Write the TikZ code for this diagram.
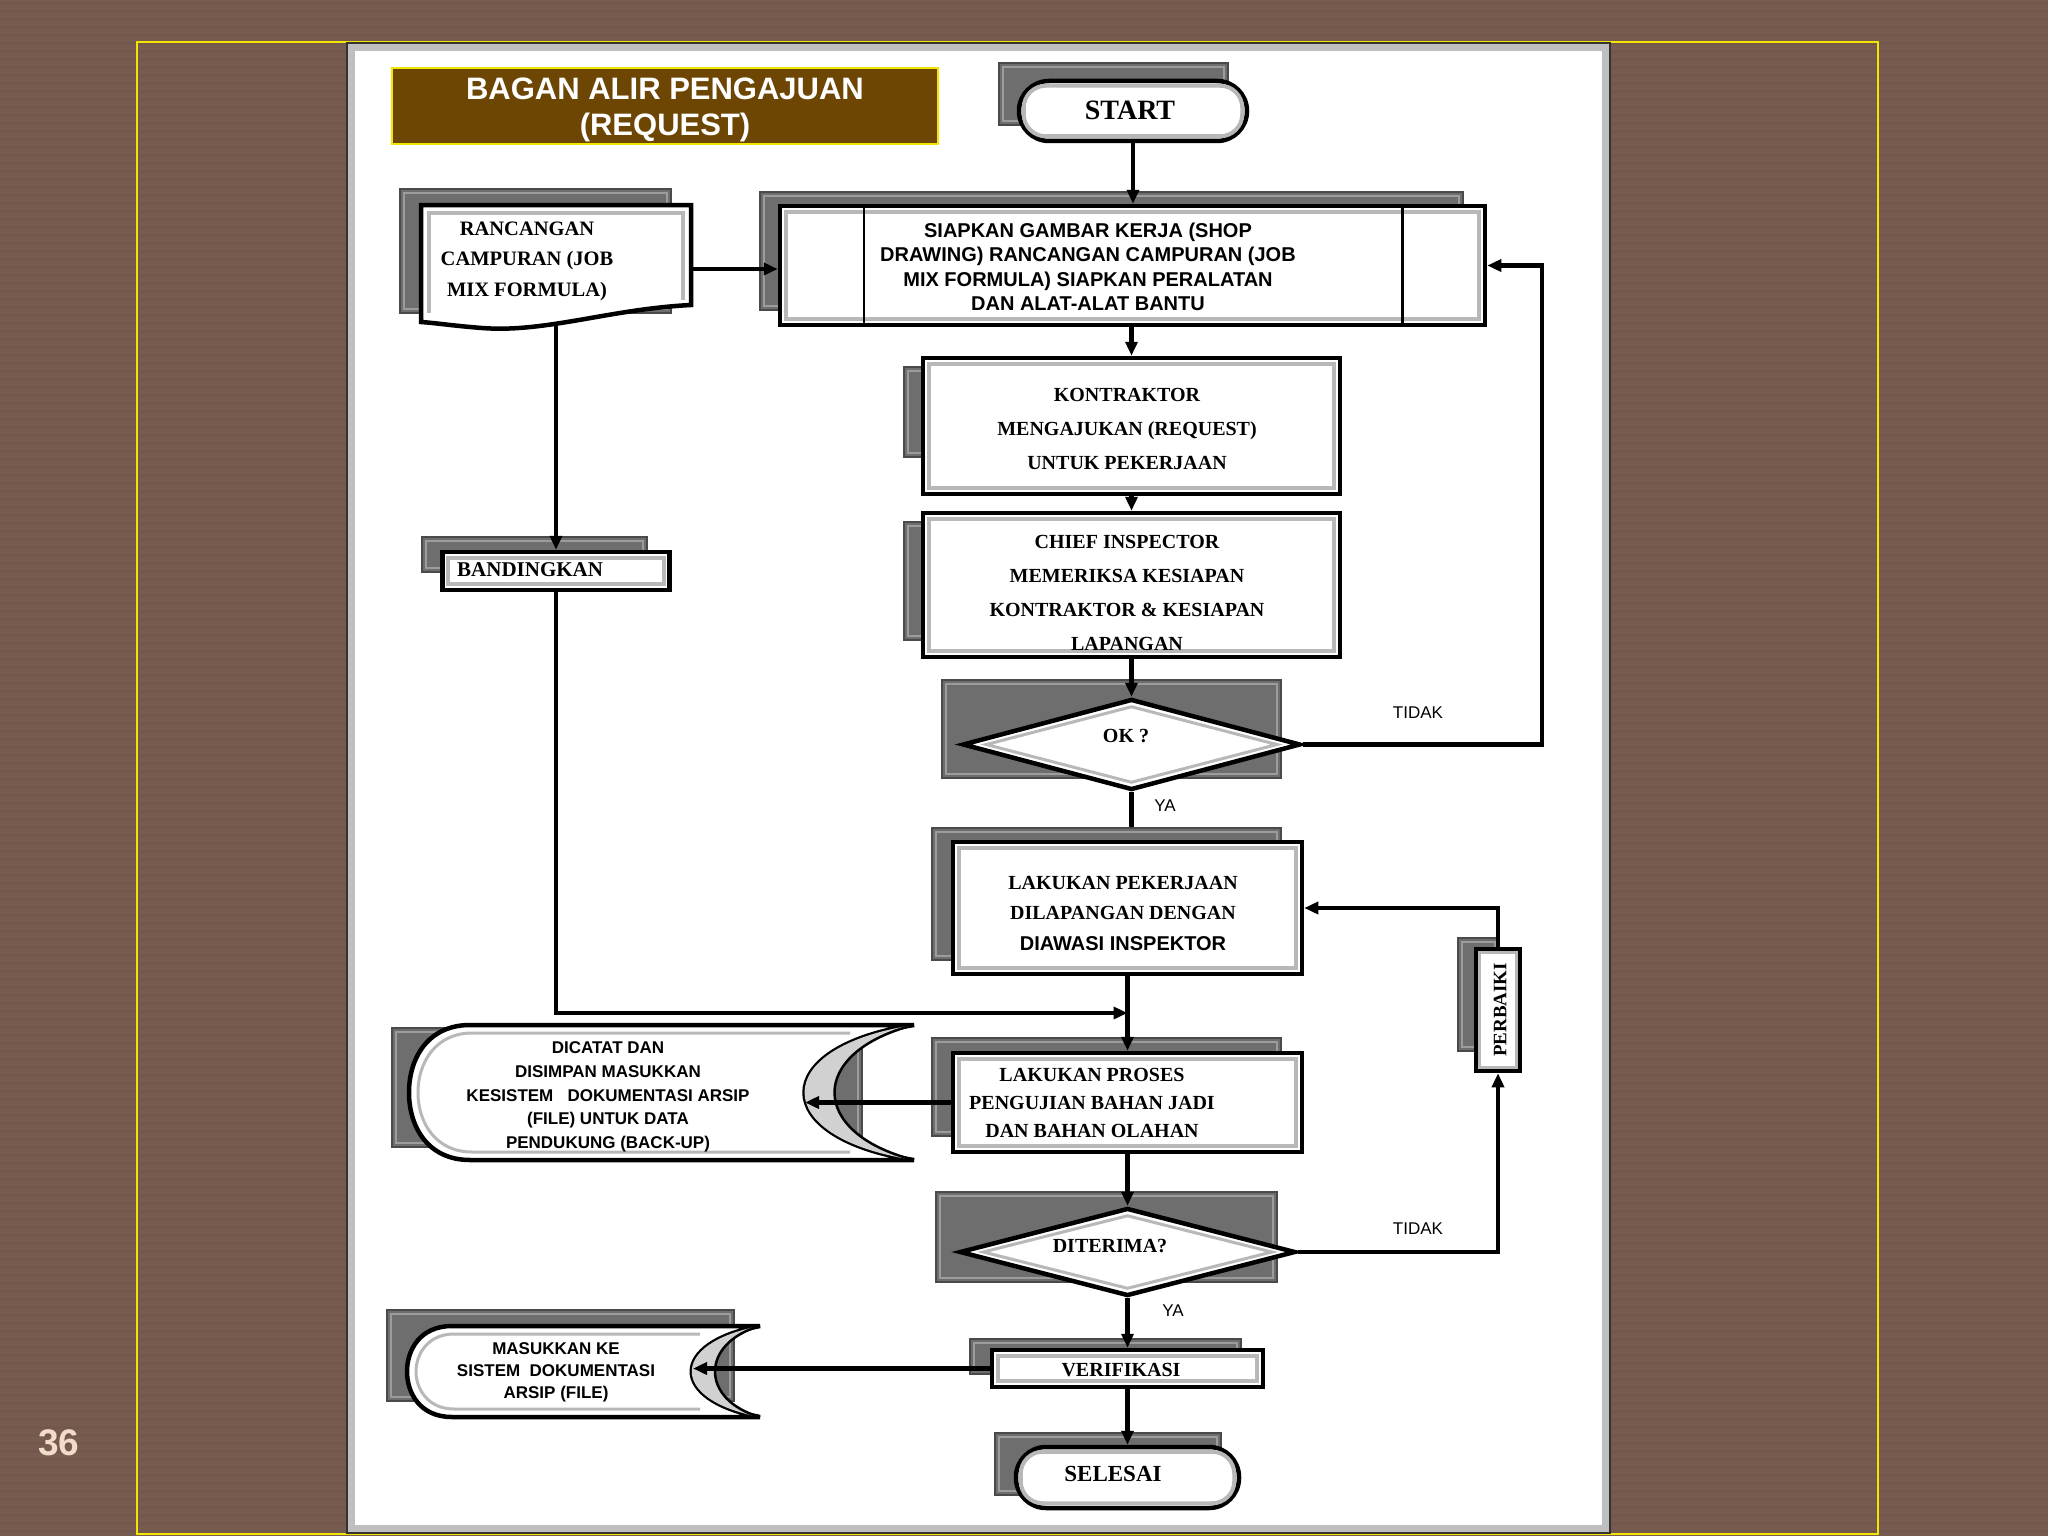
\documentclass[tikz,border=0pt]{standalone}
\usepackage{fontspec}
\setmainfont{Liberation Serif}
\setsansfont{Liberation Sans}
\usetikzlibrary{arrows.meta,shapes.geometric,calc}
\definecolor{bgbrown}{HTML}{785B50}
\definecolor{bgstripe}{HTML}{74574B}
\definecolor{titlebrown}{HTML}{6E4604}
\definecolor{frameyellow}{HTML}{F2E600}
\definecolor{shgray}{HTML}{6E6E6E}
\definecolor{shdark}{HTML}{4A4A4A}
\definecolor{shlight}{HTML}{9C9C9C}
\definecolor{numcol}{HTML}{F0DCC8}
\newcommand\mkshadow[5]{\node[shadowbox, minimum width=#4pt, minimum height=#5pt] (#1) at (#2,#3) {};
  \draw[shbevel] ([shift={(5,5)}]#1.north west) rectangle ([shift={(-5,-5)}]#1.south east);}
\newcommand\mkbox[5]{\node[wbox, minimum width=#4pt, minimum height=#5pt] (#1) at (#2,#3) {};
  \draw[bevel] ([shift={(8,8)}]#1.north west) rectangle ([shift={(-8,-8)}]#1.south east);}
\begin{document}
\begin{tikzpicture}[x=1pt,y=-1pt,
  conn/.style={line width=4.5pt, draw=black},
  arr/.style={conn,-{Triangle[length=14pt,width=12pt]}},
  shadowbox/.style={rectangle, fill=shgray, draw=shdark, line width=2pt, inner sep=0pt},
  wbox/.style={rectangle, fill=white, draw=black, line width=4.5pt, inner sep=0pt},
  bevel/.style={draw=black!28, line width=4pt},
  shbevel/.style={draw=shlight, line width=2.5pt},
  dia/.style={diamond, fill=white, draw=black, line width=4.5pt, inner sep=0pt},
  serifb/.style={font=\bfseries\fontsize{20pt}{34pt}\selectfont, align=center, inner sep=0pt},
  sansb/.style={font=\sffamily\bfseries\fontsize{20pt}{24.4pt}\selectfont, align=center, inner sep=0pt},
  lbl/.style={font=\sffamily\fontsize{17pt}{20pt}\selectfont, inner sep=0pt},
]
\useasboundingbox (0,0) rectangle (2048,1536);
% background
\fill[bgbrown] (0,0) rectangle (2048,1536);
\foreach \yy in {2,10,...,1530} \fill[bgstripe] (0,\yy) rectangle (2048,\yy+3);
\draw[frameyellow, line width=2.5pt] (137,42) rectangle (1878,1534);
\filldraw[fill=black!25, draw=black!80, line width=2pt] (347,43) rectangle (1610,1533);
\fill[white] (355,51) rectangle (1602,1525);
\node[font=\sffamily\bfseries\fontsize{37pt}{40pt}\selectfont, text=numcol, inner sep=0pt] (pagenum) at (59,1443) {36};

% title
\node[rectangle, fill=titlebrown, draw=frameyellow, line width=2.5pt, minimum width=546pt, minimum height=76pt, inner sep=0pt]
      (title) at (665,106) {};
\node[text=white, font=\sffamily\bfseries\fontsize{31pt}{36pt}\selectfont, align=center, inner sep=0pt]
      (titleT) at (665,110) {BAGAN ALIR PENGAJUAN\\(REQUEST)};

% shadows
\mkshadow{startS}{1113.5}{94}{229}{62}
\mkshadow{siapkanS}{1111.5}{251}{703}{118}
\mkshadow{rancS}{535.5}{251}{271}{124}
\mkshadow{bandS}{534.5}{554.5}{225}{35}
\mkshadow{kontS}{1102}{412}{396}{90}
\mkshadow{chiefS}{1102}{581}{396}{118}
\mkshadow{okS}{1111.5}{729}{339}{98}
\mkshadow{pekS}{1106.5}{894}{349}{132}
\mkshadow{prosS}{1106.5}{1087}{349}{98}
\mkshadow{terimaS}{1106.5}{1237}{341}{90}
\mkshadow{perbS}{1478.5}{994.5}{41}{113}
\mkshadow{verS}{1105.5}{1356.5}{271}{35}
\mkshadow{selS}{1108}{1464}{226}{62}
\mkshadow{dicS}{627}{1087.5}{470}{119}
\mkshadow{masS}{560.5}{1355.5}{347}{91}

% START
\node[wbox, rounded corners=30pt, minimum width=228pt, minimum height=60pt] (start) at (1133,111) {};
\draw[bevel, rounded corners=22pt] ([shift={(7,7)}]start.north west) rectangle ([shift={(-7,-7)}]start.south east);
\node[font=\bfseries\fontsize{28pt}{30pt}\selectfont, inner sep=0pt] (startT) at (1130,110) {START};

% SIAPKAN
\mkbox{siapkan}{1132.5}{265.5}{705}{119}
\draw[line width=2.5pt] ([shift={(86,0)}]siapkan.north west) -- ([shift={(86,0)}]siapkan.south west);
\draw[line width=2.5pt] ([shift={(-85,0)}]siapkan.north east) -- ([shift={(-85,0)}]siapkan.south east);
\node[sansb] (siapkanT) at (1088,267) {SIAPKAN GAMBAR KERJA (SHOP\\DRAWING) RANCANGAN CAMPURAN (JOB\\MIX FORMULA) SIAPKAN PERALATAN\\DAN ALAT-ALAT BANTU};

% RANCANGAN document
\node[rectangle, minimum width=270pt, minimum height=108pt, inner sep=0pt] (ranc) at (556,259) {};
\filldraw[fill=white, draw=black, line width=4.5pt] (421,205) -- (691,205) -- (691,305)
   .. controls (610,309) and (545,333) .. (482,328) .. controls (455,326) and (436,323) .. (421,322) -- cycle;
\draw[bevel] (429,313) -- (429,213) -- (683,213) -- (683,300);
\coordinate (rancBot) at (556,323);
\node[serifb, font=\bfseries\fontsize{20.5pt}{30.5pt}\selectfont] (rancT) at (527,261) {RANCANGAN\\CAMPURAN (JOB\\MIX FORMULA)};

% BANDINGKAN
\mkbox{band}{556}{571}{227}{38}
\node[serifb, font=\bfseries\fontsize{21pt}{24pt}\selectfont, anchor=west] (bandT) at (457,570) {BANDINGKAN};

% KONTRAKTOR
\mkbox{kont}{1131.5}{426}{417}{136}
\node[serifb] (kontT) at (1127,429) {KONTRAKTOR\\MENGAJUKAN (REQUEST)\\UNTUK PEKERJAAN};

% CHIEF
\mkbox{chief}{1131.5}{585}{417}{144}
\node[serifb] (chiefT) at (1127,593) {CHIEF INSPECTOR\\MEMERIKSA KESIAPAN\\KONTRAKTOR \& KESIAPAN\\LAPANGAN};

% OK diamond
\node[dia, minimum width=338pt, minimum height=91pt] (ok) at (1131.5,744.5) {};
\draw[bevel, line width=3pt] ($(ok.north)+(0,10)$) -- ($(ok.east)+(-26,0)$) -- ($(ok.south)+(0,-10)$) -- ($(ok.west)+(26,0)$) -- cycle;
\node[serifb] (okT) at (1126,736) {OK ?};

% LAKUKAN PEKERJAAN
\mkbox{pek}{1127.5}{908}{349}{132}
\node[serifb, font=\bfseries\fontsize{20pt}{30.5pt}\selectfont] (pekT) at (1123,913) {LAKUKAN PEKERJAAN\\DILAPANGAN DENGAN\\{\sffamily DIAWASI INSPEKTOR}};

% LAKUKAN PROSES
\mkbox{pros}{1127.5}{1102.5}{349}{99}
\node[serifb, font=\bfseries\fontsize{20pt}{28pt}\selectfont] (prosT) at (1092,1103) {LAKUKAN PROSES\\PENGUJIAN BAHAN JADI\\DAN BAHAN OLAHAN};

% DITERIMA diamond
\node[dia, minimum width=336pt, minimum height=88pt] (terima) at (1127.5,1252) {};
\draw[bevel, line width=3pt] ($(terima.north)+(0,10)$) -- ($(terima.east)+(-26,0)$) -- ($(terima.south)+(0,-10)$) -- ($(terima.west)+(26,0)$) -- cycle;
\node[serifb] (terimaT) at (1110,1246) {DITERIMA?};

% PERBAIKI
\node[wbox, minimum width=44pt, minimum height=122pt] (perb) at (1498,1010) {};
\draw[bevel, line width=3pt] ([shift={(6,6)}]perb.north west) rectangle ([shift={(-6,-6)}]perb.south east);
\node[serifb, font=\bfseries\fontsize{19pt}{22pt}\selectfont, rotate=90] (perbT) at (1500,1010) {PERBAIKI};

% VERIFIKASI
\mkbox{ver}{1127.5}{1368.5}{271}{37}
\node[serifb] (verT) at (1121,1370) {VERIFIKASI};

% SELESAI
\node[wbox, rounded corners=30pt, minimum width=223pt, minimum height=61pt] (sel) at (1127.5,1477.5) {};
\draw[bevel, rounded corners=22pt] ([shift={(7,7)}]sel.north west) rectangle ([shift={(-7,-7)}]sel.south east);
\node[font=\bfseries\fontsize{23pt}{26pt}\selectfont, inner sep=0pt] (selT) at (1113,1474) {SELESAI};

% DICATAT storage
\node[rectangle, minimum width=505pt, minimum height=135pt, inner sep=0pt] (dic) at (661.5,1092.5) {};
\filldraw[fill=white, draw=black, line width=4.5pt] (914,1025) -- (470,1025) .. controls (428,1025) and (409,1058) .. (409,1092.5)
   .. controls (409,1127) and (428,1160) .. (470,1160) -- (914,1160) .. controls (768,1138) and (768,1047) .. (914,1025) -- cycle;
\fill[black!18] (914,1025) .. controls (768,1047) and (768,1138) .. (914,1160) .. controls (808,1133) and (808,1052) .. (914,1025) -- cycle;
\draw[line width=2.5pt] (914,1160) .. controls (808,1133) and (808,1052) .. (914,1025);
\draw[bevel, line width=3pt] (850,1033) -- (472,1033) .. controls (436,1033) and (418,1062) .. (418,1092.5) .. controls (418,1123) and (436,1152) .. (472,1152) -- (850,1152);
\coordinate (dicIn) at (805,1102.5);
\node[sansb, font=\sffamily\bfseries\fontsize{17pt}{23.75pt}\selectfont] (dicT) at (608,1097) {DICATAT DAN\\DISIMPAN MASUKKAN\\KESISTEM\ \ \ DOKUMENTASI ARSIP\\(FILE) UNTUK DATA\\PENDUKUNG (BACK-UP)};

% MASUKKAN storage
\node[rectangle, minimum width=353pt, minimum height=91pt, inner sep=0pt] (mas) at (583.5,1371.5) {};
\filldraw[fill=white, draw=black, line width=4.5pt] (760,1326) -- (452,1326) .. controls (420,1326) and (407,1350) .. (407,1371.5)
   .. controls (407,1393) and (420,1417) .. (452,1417) -- (760,1417) .. controls (669,1400) and (669,1343) .. (760,1326) -- cycle;
\fill[black!18] (760,1326) .. controls (669,1343) and (669,1400) .. (760,1417) .. controls (700,1400) and (700,1343) .. (760,1326) -- cycle;
\draw[line width=2.5pt] (760,1417) .. controls (700,1400) and (700,1343) .. (760,1326);
\draw[bevel, line width=3pt] (700,1334) -- (454,1334) .. controls (428,1334) and (416,1354) .. (416,1371.5) .. controls (416,1389) and (428,1409) .. (454,1409) -- (700,1409);
\coordinate (masIn) at (693,1368.5);
\node[sansb, font=\sffamily\bfseries\fontsize{17pt}{22pt}\selectfont] (masT) at (556,1372) {MASUKKAN KE\\SISTEM\ \ DOKUMENTASI\\ARSIP (FILE)};

% labels
\node[lbl] (tidak1) at (1418,713) {TIDAK};
\node[lbl] (ya1) at (1165,806) {YA};
\node[lbl] (tidak2) at (1418,1229) {TIDAK};
\node[lbl] (ya2) at (1173,1311) {YA};

% connectors
\coordinate (loopTop) at (1542,265.5);
\coordinate (joinPt) at (1127.5,1013);
\draw[arr] (start.south) -- (start.south |- siapkan.north);
\draw[arr] ([shift={(0,10)}]ranc.east) -- ([shift={(0,10)}]ranc.east -| siapkan.west);
\draw[arr] (rancBot) -- (rancBot |- band.north);
\draw[arr] (kont.north |- siapkan.south) -- (kont.north);
\draw[arr] (kont.south) -- (chief.north);
\draw[arr] (chief.south) -- (ok.north);
\draw[conn] (ok.south) -- (ok.south |- pekS.north);
\draw[arr] (ok.east) -| (loopTop) -- (siapkan.east);
\draw[arr] (pek.south) -- (pros.north);
\draw[arr] (band.south) |- (joinPt);
\draw[arr] (pros.west) -- (pros.west -| dicIn);
\draw[arr] (pros.south) -- (terima.north);
\draw[arr] (terima.east) -| (perb.south);
\draw[arr] (perb.north) |- (pek.east);
\draw[arr] (terima.south) -- (ver.north);
\draw[arr] (ver.west) -- (ver.west -| masIn);
\draw[arr] (ver.south) -- (sel.north);
\end{tikzpicture}
\end{document}
